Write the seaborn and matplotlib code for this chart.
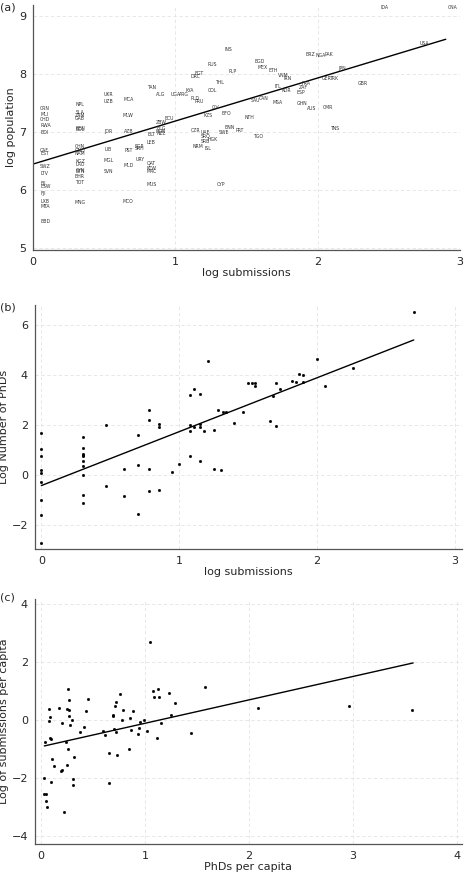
import matplotlib
matplotlib.use("Agg")
import matplotlib.pyplot as plt
import seaborn as sns
import numpy as np
import pandas as pd

sns.set_style("white")
plt.rcParams['font.family'] = ['DejaVu Sans']

# Panel (a): country labels, log submissions, log population
a_codes = ["CRN","MLI","CHD","RWA","BDI","CAF","EST","SWZ","LTV","FIJ","ESW","FJI","LXB","MTA","BBD",
           "NPL","SLA","ZAM","GAB","BEN","BOL","CHN","GNQ","NAM","KGZ","LAO","CYN","BTN","BHR","TOT","MNG",
           "UKR","UZB","JOR","LIB","MGL","SVN","MCA","MLW","AZB","PST","MLD","MCO","SGP","SRH","URY",
           "TAN","LEB","BLT","QAT","KTW","MAC","MUS","ALG","ZBW","BLG","HUN","NZL","ECU",
           "UGA","ARG","KYA","PLD","PRU","DRC","EGT","RUS","INS","PLP","THL","COL","CIV","KZS","BFO",
           "CZR","UAE","SRQ","SRB","HGK","BNN","SWE","NRM","ISL","CYP",
           "IDA","CNA","USA","BRZ","NGA","PAK","BGD","MEX","ETH","VNM","IRN","JPN","GER","TRK","GBR",
           "ITL","KOR","ESP","FRA","ZAF","SAU","CAN","MSA","GHN","AUS","CMR","NTH","PRT","TNS","TGO"]
a_x = [0.05,0.05,0.05,0.05,0.05,0.05,0.05,0.05,0.05,0.05,0.05,0.05,0.05,0.05,0.05,
       0.33,0.33,0.33,0.33,0.33,0.33,0.33,0.33,0.33,0.33,0.33,0.33,0.33,0.33,0.33,0.33,
       0.53,0.53,0.53,0.53,0.53,0.53,0.67,0.67,0.67,0.67,0.67,0.67,0.75,0.75,0.75,
       0.83,0.83,0.83,0.83,0.83,0.83,0.83,0.90,0.90,0.90,0.90,0.90,0.96,
       1.00,1.06,1.10,1.14,1.17,1.14,1.17,1.26,1.37,1.40,1.31,1.26,1.28,1.23,1.36,
       1.14,1.21,1.21,1.21,1.26,1.38,1.34,1.16,1.23,1.32,
       2.47,2.95,2.75,1.95,2.02,2.08,1.59,1.61,1.69,1.76,1.79,2.17,2.06,2.11,2.32,
       1.72,1.78,1.88,1.92,1.90,1.56,1.62,1.72,1.89,1.96,2.07,1.52,1.45,2.12,1.58]
a_y = [7.40,7.31,7.22,7.11,6.99,6.68,6.63,6.40,6.28,6.12,6.06,5.95,5.80,5.72,5.46,
       7.47,7.34,7.28,7.23,7.07,7.05,6.75,6.69,6.63,6.49,6.45,6.34,6.32,6.24,6.14,5.79,
       7.65,7.53,7.01,6.70,6.51,6.32,7.57,7.28,7.01,6.68,6.42,5.81,6.75,6.71,6.53,
       7.77,6.83,6.96,6.46,6.37,6.32,6.10,7.64,7.16,7.06,7.01,6.98,7.24,
       7.65,7.65,7.72,7.58,7.52,7.95,8.01,8.16,8.43,8.04,7.85,7.71,7.43,7.28,7.32,
       7.03,6.99,6.94,6.84,6.87,7.08,7.00,6.75,6.71,6.09,
       9.15,9.15,8.53,8.33,8.32,8.34,8.21,8.11,8.06,7.98,7.93,8.10,7.93,7.93,7.83,
       7.78,7.71,7.68,7.83,7.77,7.55,7.58,7.51,7.49,7.41,7.43,7.25,7.02,7.07,6.92]

# Panel (b): log submissions vs log number of PhDs
b_x = [0,0,0,0,0,0,0,0,0,
       0.3,0.3,0.3,0.3,0.3,0.3,0.3,0.3,0.3,0.3,
       0.47,0.47,0.6,0.6,0.7,0.7,0.7,0.78,0.78,0.78,0.78,0.85,0.85,0.85,
       0.95,1.0,1.08,1.08,1.08,1.08,1.11,1.11,1.15,1.15,1.15,1.15,1.18,1.21,1.25,1.25,
       1.28,1.3,1.32,1.34,1.4,1.46,1.5,1.53,1.55,1.55,1.66,1.7,1.7,1.73,1.68,
       1.82,1.85,1.87,1.9,1.9,2.0,2.06,2.26,2.7]
b_y = [1.67,1.04,0.75,0.21,0.07,-0.29,-1.0,-1.59,-2.72,
       1.52,1.08,0.85,0.8,0.76,0.55,0.37,0.0,-0.8,-1.11,
       2.0,-0.43,0.25,-0.84,1.6,0.4,-1.56,2.59,2.21,0.24,-0.65,2.03,1.92,-0.61,
       0.12,0.44,3.2,1.99,1.76,0.77,3.45,1.91,3.24,2.04,1.92,0.57,1.75,4.55,1.81,0.24,
       2.6,0.21,2.51,2.51,2.07,2.51,3.69,3.69,3.69,3.57,2.15,1.97,3.69,3.43,3.17,
       3.75,3.71,4.04,4.0,3.71,4.64,3.57,4.28,6.53]

# Panel (c): PhDs per capita vs log submissions per capita
c_x = [0.03,0.05,0.05,0.06,0.03,0.04,0.07,0.07,0.08,0.08,0.09,0.1,0.09,0.12,0.17,0.19,0.2,0.2,
       0.22,0.24,0.25,0.25,0.26,0.27,0.26,0.27,0.27,0.28,0.3,0.31,0.31,0.32,0.37,0.41,0.43,0.45,
       0.59,0.61,0.65,0.65,0.69,0.69,0.7,0.71,0.72,0.72,0.73,0.76,0.78,0.79,0.84,0.85,0.86,0.88,
       0.93,0.94,0.95,0.99,1.02,1.05,1.08,1.09,1.11,1.12,1.13,1.15,1.23,1.25,1.29,1.44,1.58,
       2.09,2.96,3.57]
c_y = [-2.56,-2.56,-2.79,-3.0,-2.01,-0.75,0.36,-0.05,0.1,-0.63,-0.66,-1.36,-2.13,-1.61,0.41,-1.77,-1.74,-0.09,
       -3.17,-0.76,0.36,-1.57,1.06,0.7,-1.0,0.34,0.15,-0.18,-0.02,-2.06,-2.24,-1.28,-0.43,-0.23,0.31,0.72,
       -0.4,-0.51,-1.15,-2.18,0.13,0.17,-0.33,0.49,0.63,-0.43,-1.23,0.89,0.01,0.33,-1.01,0.08,-0.34,0.32,
       -0.47,-0.29,-0.07,0.0,-0.4,2.68,0.99,0.79,-0.64,1.07,0.79,-0.09,0.92,0.17,0.6,-0.44,1.13,
       0.4,0.48,0.34]

fig = plt.figure(figsize=(4.74, 8.75), dpi=100)
W, H = 474, 875
def ax_px(l, t, r, b):
    return fig.add_axes([l / W, 1 - b / H, (r - l) / W, (b - t) / H])

axa = ax_px(33, 5, 460, 250)
axb = ax_px(35, 305, 462, 549)
axc = ax_px(35, 599, 462, 844)

def style(ax):
    for s in ["top", "right"]:
        ax.spines[s].set_visible(False)
    for s in ["left", "bottom"]:
        ax.spines[s].set_color("#555555")
        ax.spines[s].set_linewidth(0.9)
    ax.grid(True, ls=(0, (4, 3)), color="#e3e3e3", lw=0.6)
    ax.tick_params(axis="both", labelsize=8, length=3, color="#555555", pad=2)
    ax.tick_params(axis="y", labelrotation=0)

def fitline(ax, x, y, xr):
    p = np.polyfit(x, y, 1)
    xx = np.array(xr)
    sns.lineplot(x=xx, y=np.polyval(p, xx), ax=ax, color="black", lw=1.0)

# (a)
style(axa)
axa.set_xlim(0, 3.0); axa.set_ylim(4.97, 9.19)
axa.set_xticks([0, 1, 2, 3]); axa.set_yticks([5, 6, 7, 8, 9])
for c, x, y in zip(a_codes, a_x, a_y):
    axa.text(x, y, c, fontsize=3.3, color="#333333", ha="left" if x < 0.1 else "center", va="center")
sns.lineplot(x=[0, 2.9], y=[6.45, 8.6], ax=axa, color="black", lw=1.0)
axa.set_xlabel("log submissions", fontsize=8, labelpad=1)
axa.set_ylabel("log population", fontsize=8, labelpad=2)
fig.text(0, 1 - 8 / H, "(a)", fontsize=8, va="center")

# (b)
style(axb)
sns.scatterplot(x=b_x, y=b_y, ax=axb, s=4, color="black", edgecolor=None)
sns.lineplot(x=[0, 2.7], y=[-0.43, 5.4], ax=axb, color="black", lw=1.0)
axb.set_xlim(-0.046, 3.05); axb.set_ylim(-2.97, 6.8)
axb.set_xticks([0, 1, 2, 3]); axb.set_yticks([-2, 0, 2, 4, 6])
axb.set_xlabel("log submissions", fontsize=8, labelpad=1)
axb.set_ylabel("Log Number of PhDs", fontsize=8, labelpad=2)
fig.text(0, 1 - 307 / H, "(b)", fontsize=8, va="center")

# (c)
style(axc)
sns.scatterplot(x=c_x, y=c_y, ax=axc, s=4, color="black", edgecolor=None)
sns.lineplot(x=[0.03, 3.58], y=[-0.9, 1.97], ax=axc, color="black", lw=1.0)
axc.set_xlim(-0.06, 4.05); axc.set_ylim(-4.29, 4.18)
axc.set_xticks([0, 1, 2, 3, 4]); axc.set_yticks([-4, -2, 0, 2, 4])
axc.set_xlabel("PhDs per capita", fontsize=8, labelpad=1)
axc.set_ylabel("Log of submissions per capita", fontsize=8, labelpad=2)
fig.text(0, 1 - 597 / H, "(c)", fontsize=8, va="center")

fig.savefig("out.png", dpi=100)
